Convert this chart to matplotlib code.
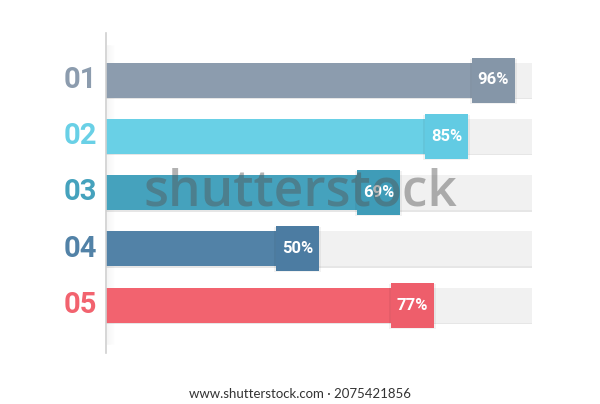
import numpy as np
import matplotlib
matplotlib.use("Agg")
import matplotlib.pyplot as plt
from matplotlib.patches import Rectangle

labels = ["01", "02", "03", "04", "05"]
values = [96, 85, 69, 50, 77]
colors = ["#8c9cae", "#69d0e6", "#45a2bd", "#5282a7", "#f2636f"]
box_colors = ["#8596a8", "#62cbe3", "#3f9cb8", "#4c7ca2", "#ee5e6b"]

narrow = ["Roboto", "DejaVu Sans"]

fig = plt.figure(figsize=(6, 4.04), dpi=100)
# x: 0..100 percent over the track, y: rows
ax = fig.add_axes([106 / 600, 0, 426 / 600, 1])
ax.set_xlim(0, 100)
ax.set_ylim((404 - 80) / 56.25, -80 / 56.25)
ax.axis("off")

bar_h = 35 / 56.25
box_h = 45 / 56.25
box_w = 43 / 426 * 100
y = np.arange(len(values))

# light grey track behind each bar, with a faint shadow below
ax.barh(y + 0.03, 100, height=bar_h, left=0, color="#e6e6e6", zorder=1)
ax.barh(y, 100, height=bar_h, left=0, color="#f1f1f1", zorder=1.5)

ax.barh(y, [v - box_w for v in values], height=bar_h, color=colors, zorder=2)

for i, v in enumerate(values):
    # soft shadow behind the value box
    ax.add_patch(Rectangle((v - box_w - 0.4, i - box_h / 2 + 0.02), box_w + 0.8,
                           box_h, color="#000000", alpha=0.05, zorder=2.5, lw=0))
    ax.add_patch(Rectangle((v - box_w, i - box_h / 2), box_w, box_h,
                           color=box_colors[i], zorder=3, lw=0))
    ax.text(v - box_w / 2, i, f"{v}%", color="white", fontsize=12,
            fontweight="bold", family=narrow, ha="center", va="center", zorder=4)
    ax.text(-6.1, i, labels[i], color=colors[i], fontsize=21, fontweight="bold",
            family=narrow, ha="center", va="center", zorder=4)

# vertical divider line with a small shadow to the right
ax.plot([0, 0], [-0.83, 4.86], color="#d0d0d0", lw=1.2, zorder=5, clip_on=False)
for k in range(8):
    ax.plot([0.2 + k * 0.25, 0.2 + k * 0.25], [-0.6, 4.7], color="#000000",
            alpha=0.025 * (8 - k) / 8, lw=1.2, zorder=1.8, clip_on=False)

# watermark texts
fig.text(0.5, (404 - 192) / 404, "shutterstock", fontsize=37, fontweight="semibold",
         color="#555555", alpha=0.45, ha="center", va="center",
         family=["Open Sans", "DejaVu Sans"])
fig.text(0.5, (404 - 394) / 404, "www.shutterstock.com · 2075421856",
         fontsize=9.5, color="#333333", ha="center", va="center",
         family=["Lato", "DejaVu Sans"])

fig.savefig("out.png", dpi=100, facecolor="white")
